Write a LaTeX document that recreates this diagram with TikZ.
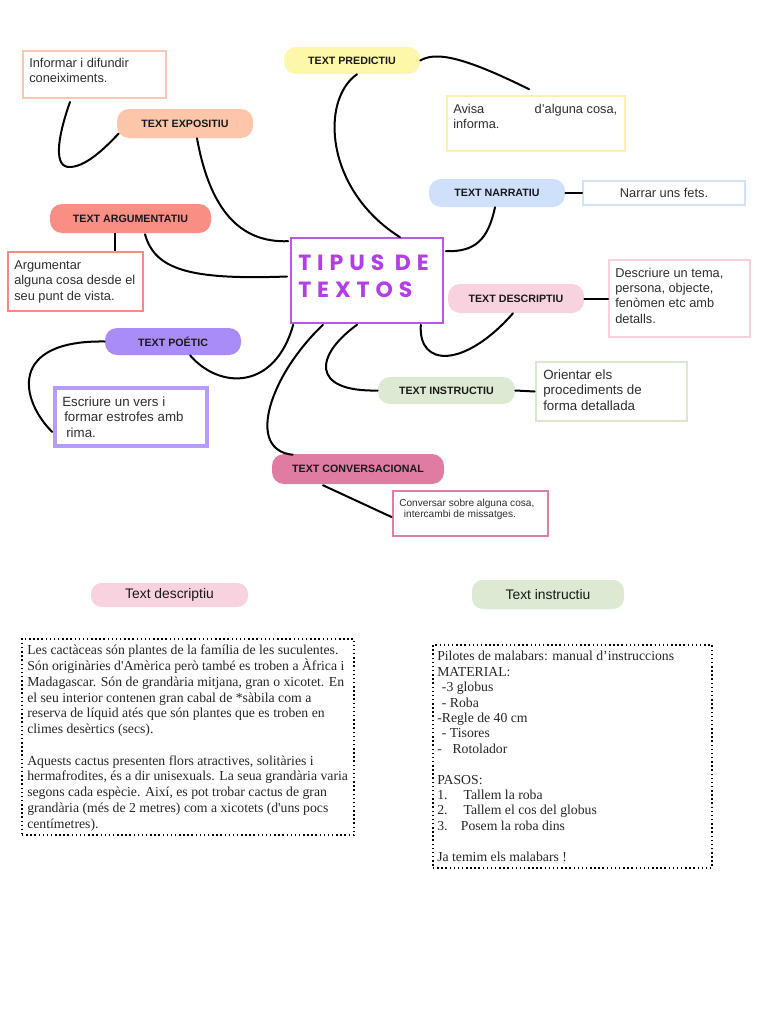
\documentclass[tikz,border=0pt]{standalone}
\usepackage{fontspec}
\setmainfont{Liberation Serif}
\setsansfont{Liberation Sans}
\newfontfamily\titlefont[LetterSpace=27]{Poppins}
\usetikzlibrary{calc}
\definecolor{cPred}{HTML}{FDF7AA}
\definecolor{cPredB}{HTML}{FBF0B0}
\definecolor{cExpo}{HTML}{FDC5A9}
\definecolor{cExpoB}{HTML}{FBC6B0}
\definecolor{cArg}{HTML}{F98E85}
\definecolor{cArgB}{HTML}{F68B80}
\definecolor{cNarr}{HTML}{CFE0FB}
\definecolor{cNarrB}{HTML}{D2E0F8}
\definecolor{cDesc}{HTML}{F8D3DF}
\definecolor{cDescB}{HTML}{F5D1DC}
\definecolor{cPoet}{HTML}{AA8CF8}
\definecolor{cPoetB}{HTML}{B59CF9}
\definecolor{cInst}{HTML}{DDE9D3}
\definecolor{cInstB}{HTML}{D9E8CF}
\definecolor{cConv}{HTML}{E07BA2}
\definecolor{cConvB}{HTML}{E07DA3}
\definecolor{cCenter}{HTML}{B55AE2}
\definecolor{cTitle}{HTML}{B33DE6}
\definecolor{cTxt}{HTML}{2E2E2E}
\tikzset{
  pill/.style={rectangle, rounded corners=9pt, inner sep=0pt, text=black!90,
    font=\sffamily\bfseries\fontsize{8}{9.6}\selectfont},
  pillb/.style={rectangle, rounded corners=8pt, inner sep=0pt, text=black!90,
    font=\sffamily\fontsize{10.4}{12}\selectfont},
  infobox/.style={rectangle, draw, inner sep=0pt},
  btext/.style={anchor=base west, inner sep=0pt, align=left, text=cTxt,
    font=\sffamily\fontsize{9.6}{11.3}\selectfont},
  conn/.style={draw=black, line width=1.5pt, line cap=round},
  thinconn/.style={draw=black, line width=0.8pt},
  dotbox/.style={rectangle, draw=black, line width=1.1pt, dash pattern=on 1.1pt off 2pt, inner sep=0pt},
  serift/.style={anchor=base west, inner sep=0pt, align=left, text=black!85,
    font=\rmfamily\fontsize{10.3}{11.8}\selectfont}
}
\begin{document}
\begin{tikzpicture}[x=0.75pt,y=-0.75pt]
\useasboundingbox[fill=white] (0,0) rectangle (768,1024);

% ---------- central node
\node[infobox, draw=cCenter, line width=1.2pt, minimum width=114pt, minimum height=63.75pt] (center) at (367,280.5) {};
\node[anchor=base west, inner sep=0pt, align=left, text=cTitle,
  font=\titlefont\bfseries\fontsize{16.5}{20.25}\selectfont] (title) at (298,297) {TIPUS DE\\TEXTOS};

% ---------- predictiu
\node[pill, fill=cPred, minimum width=102pt, minimum height=20.25pt] (pred) at (352,60.5) {TEXT PREDICTIU};
\node[infobox, draw=cPredB, line width=1.2pt, minimum width=133.5pt, minimum height=41.25pt] (avisa) at (536,123.5) {};
\node[btext, font=\sffamily\fontsize{9.6}{10.8}\selectfont] (avisat) at (453,128.4) {\makebox[123pt][l]{Avisa\hfill d’alguna cosa,}\\informa.};

% ---------- expositiu
\node[pill, fill=cExpo, minimum width=102pt, minimum height=21.75pt] (expo) at (185,123.5) {TEXT EXPOSITIU};
\node[infobox, draw=cExpoB, line width=1.5pt, minimum width=107.25pt, minimum height=35.25pt] (info) at (94.5,74.5) {};
\node[btext] (infot) at (29,83) {Informar i difundir\\coneiximents.};

% ---------- argumentatiu
\node[pill, fill=cArg, minimum width=120.75pt, minimum height=21.75pt] (argu) at (130.5,218.5) {TEXT ARGUMENTATIU};
\node[infobox, draw=cArgB, line width=2.2pt, minimum width=101.25pt, minimum height=44.25pt] (argbox) at (75.5,281.5) {};
\node[btext] (argt) at (14,300) {Argumentar\\alguna cosa desde el\\seu punt de vista.};

% ---------- narratiu
\node[pill, fill=cNarr, minimum width=102pt, minimum height=21pt] (narr) at (497,193) {TEXT NARRATIU};
\node[infobox, draw=cNarrB, line width=1.5pt, minimum width=121.5pt, minimum height=18pt,
  text=cTxt, font=\sffamily\fontsize{9.6}{11.3}\selectfont] (narrbox) at (664,193) {Narrar uns fets.};

% ---------- descriptiu
\node[pill, fill=cDesc, minimum width=102pt, minimum height=21.75pt] (desc) at (516,298.5) {TEXT DESCRIPTIU};
\node[infobox, draw=cDescB, line width=1.5pt, minimum width=105.75pt, minimum height=57.75pt] (descbox) at (679.5,298.5) {};
\node[btext, font=\sffamily\fontsize{9.6}{11.5}\selectfont] (desct) at (615,323) {Descriure un tema,\\persona, objecte,\\fenòmen etc amb\\detalls.};

% ---------- poetic
\node[pill, fill=cPoet, minimum width=102pt, minimum height=20.25pt] (poet) at (173,341.5) {TEXT POÉTIC};
\node[infobox, draw=cPoetB, line width=2.6pt, minimum width=114pt, minimum height=43.5pt] (escbox) at (131,417) {};
\node[btext, font=\sffamily\fontsize{10}{11.6}\selectfont] (esct) at (62,437) {Escriure un vers i\\\hspace{1.5pt}formar estrofes amb\\\hspace{3pt}rima.};

% ---------- instructiu
\node[pill, fill=cInst, minimum width=102.75pt, minimum height=20.25pt] (inst) at (446.5,390.5) {TEXT INSTRUCTIU};
\node[infobox, draw=cInstB, line width=2pt, minimum width=113.25pt, minimum height=44.25pt] (instbox) at (611.5,391.5) {};
\node[btext, font=\sffamily\fontsize{10}{11.6}\selectfont] (instt) at (543,410) {Orientar els\\procediments de\\forma detallada};

% ---------- conversacional
\node[pill, fill=cConv, minimum width=129pt, minimum height=22.5pt] (conv) at (358,469) {TEXT CONVERSACIONAL};
\node[infobox, draw=cConvB, line width=2.2pt, minimum width=116.25pt, minimum height=33.75pt] (convbox) at (470.5,513.5) {};
\node[btext, font=\sffamily\fontsize{7.6}{8.6}\selectfont] (convt) at (399,517.5) {Conversar sobre alguna cosa,\\\hspace{3.5pt}intercambi de missatges.};

% ---------- connectors
\coordinate (avisaend) at ($(avisa.north)+(-7,-6)$);
\draw[conn] (pred.east) .. controls (435,52) and (460,55) .. (avisaend);
\draw[conn] ($(pred.south)+(5,0)$) .. controls (320,100) and (325,190) .. ($(center.north)+(33,0)$);

\draw[conn] ($(info.south)+(-24.5,3)$) .. controls (60,130) and (52,165) .. (68,167)
            .. controls (85,168) and (105,148) .. ($(expo.west)+(2,10)$);
\draw[conn] ($(expo.south)+(12,0)$) .. controls (210,210) and (240,243) .. ($(center.north west)+(-2,4)$);

\draw[thinconn] ($(argu.south)+(-15.5,0)$) -- ($(argbox.north)+(39.5,0)$);
\draw[conn] ($(argu.south)+(14.5,1)$) .. controls (155,270) and (190,280) .. ($(center.west)+(-3,-4)$);

\draw[conn] (narr.east) -- (narrbox.west);
\draw[conn] ($(narr.south)+(-2,0)$) .. controls (488,240) and (475,252) .. ($(center.north east)+(2,14)$);

\draw[conn] (desc.east) -- (descbox.west);
\draw[conn] ($(center.south east)+(-23,1)$) .. controls (418,368) and (465,368) .. ($(desc.south)+(-3,0)$);

\draw[conn] (poet.west) .. controls (8,340) and (20,400) .. ($(escbox.west)+(-1,15)$);
\draw[conn] ($(poet.south)+(17,0)$) .. controls (220,390) and (275,390) .. ($(center.south west)+(3,1)$);

\draw[conn] (inst.east) -- (instbox.west);
\draw[conn] ($(center.south)+(-10,1)$) .. controls (315,355) and (310,392) .. (inst.west);

\draw[conn] ($(center.south)+(-44,1)$) .. controls (270,375) and (245,450) .. ($(conv.north west)+(21,1)$);
\draw[conn] ($(conv.south)+(-35,1)$) -- ($(convbox.west)+(0,3.5)$);

% ---------- bottom: Text descriptiu
\node[pillb, fill=cDesc, minimum width=117.75pt, minimum height=18pt] (desc2) at (169.5,595) {Text descriptiu};
\node[dotbox, minimum width=249pt, minimum height=147pt] (descdot) at (188,737) {};
\node[serift] (descdott) at (27,828) {Les cactàceas són plantes de la família de les suculentes.\\
Són originàries d\textquotesingle Amèrica però també es troben a Àfrica i\\
Madagascar. Són de grandària mitjana, gran o xicotet. En\\
el seu interior contenen gran cabal de *sàbila com a\\
reserva de líquid atés que són plantes que es troben en\\
climes desèrtics (secs).\\[11.8pt]
Aquests cactus presenten flors atractives, solitàries i\\
hermafrodites, és a dir unisexuals. La seua grandària varia\\
segons cada espècie. Així, es pot trobar cactus de gran\\
grandària (més de 2 metres) com a xicotets (d\textquotesingle uns pocs\\
centímetres).};

% ---------- bottom: Text instructiu
\node[pillb, fill=cInst, minimum width=114pt, minimum height=21.75pt] (inst2) at (548,594.5) {Text instructiu};
\node[dotbox, minimum width=209.25pt, minimum height=167.25pt] (instdot) at (572.5,756.5) {};
\node[serift, font=\rmfamily\fontsize{10.3}{11.55}\selectfont] (instdott) at (437,861) {Pilotes de malabars: manual d’instruccions\\
MATERIAL:\\
\hspace{3.5pt}-3 globus\\
\hspace{3.5pt}- Roba\\
-Regle de 40 cm\\
\hspace{3.5pt}- Tisores\\
-\hspace{8pt}Rotolador\\[11.55pt]
PASOS:\\
1.\hspace{12pt}Tallem la roba\\
2.\hspace{12pt}Tallem el cos del globus\\
3.\hspace{10pt}Posem la roba dins\\[11.55pt]
Ja temim els malabars !};
\end{tikzpicture}
\end{document}
